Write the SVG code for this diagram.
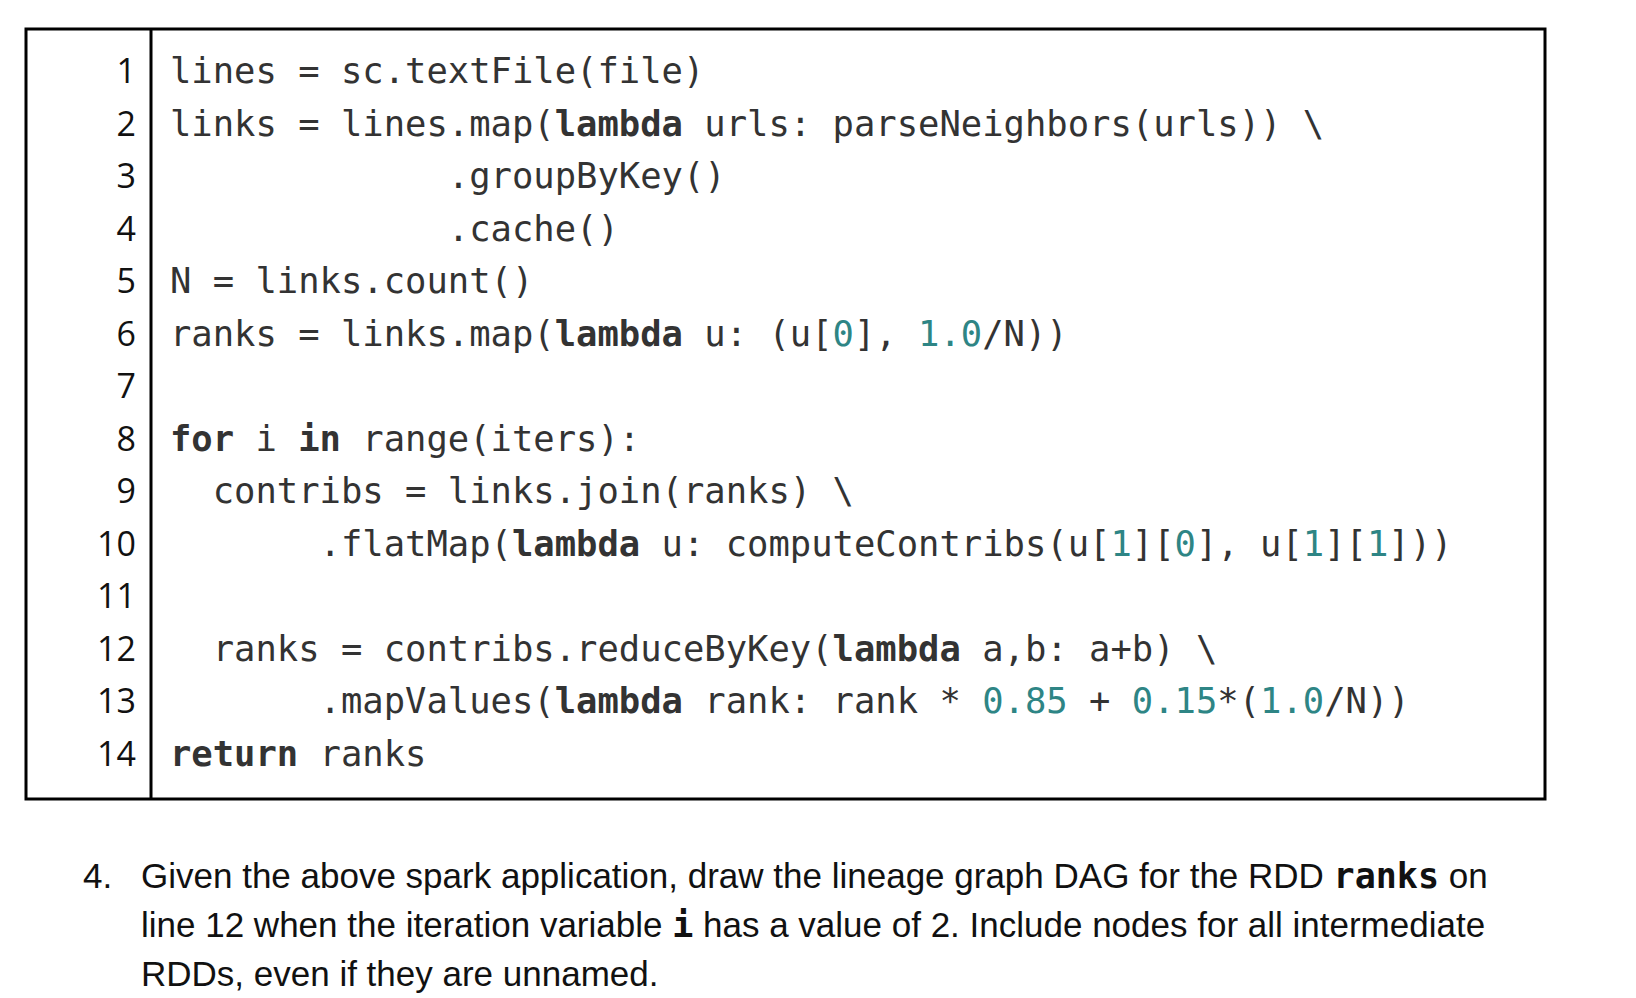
<svg xmlns="http://www.w3.org/2000/svg" width="1636" height="998" viewBox="0 0 1636 998">
<style>
.c{font-family:"DejaVu Sans Mono","Liberation Mono",monospace;font-size:35.5px;fill:#333;white-space:pre}
.n{font-family:"Open Sans","Liberation Sans",sans-serif;font-size:34px;fill:#111;text-anchor:end}
.b{font-weight:bold}
.t{fill:#2e8585}
.q{font-family:"Liberation Sans",Arial,sans-serif;font-size:35px;fill:#111}
.qm{font-family:"DejaVu Sans Mono","Liberation Mono",monospace;font-weight:bold}
</style>
<rect width="1636" height="998" fill="#fff"/>
<g id="codebox">
<rect x="26" y="29" width="1519" height="770" fill="none" stroke="#000" stroke-width="3"/>
<line x1="151" y1="29" x2="151" y2="799" stroke="#000" stroke-width="3"/>
</g>
<g id="linenumbers">
<text class="n" x="136" y="83">1</text>
<text class="n" x="136" y="136">2</text>
<text class="n" x="136" y="188">3</text>
<text class="n" x="136" y="241">4</text>
<text class="n" x="136" y="293">5</text>
<text class="n" x="136" y="346">6</text>
<text class="n" x="136" y="398">7</text>
<text class="n" x="136" y="451">8</text>
<text class="n" x="136" y="503">9</text>
<text class="n" x="136" y="556">10</text>
<text class="n" x="136" y="608">11</text>
<text class="n" x="136" y="661">12</text>
<text class="n" x="136" y="713">13</text>
<text class="n" x="136" y="766">14</text>
</g>
<g id="code" xml:space="preserve">
<text class="c" x="170" y="83">lines = sc.textFile(file)</text>
<text class="c" x="170" y="136">links = lines.map(<tspan class="b">lambda</tspan> urls: parseNeighbors(urls)) \</text>
<text class="c" x="170" y="188">             .groupByKey()</text>
<text class="c" x="170" y="241">             .cache()</text>
<text class="c" x="170" y="293">N = links.count()</text>
<text class="c" x="170" y="346">ranks = links.map(<tspan class="b">lambda</tspan> u: (u[<tspan class="t">0</tspan>], <tspan class="t">1.0</tspan>/N))</text>
<text class="c" x="170" y="451"><tspan class="b">for</tspan> i <tspan class="b">in</tspan> range(iters):</text>
<text class="c" x="170" y="503">  contribs = links.join(ranks) \</text>
<text class="c" x="170" y="556">       .flatMap(<tspan class="b">lambda</tspan> u: computeContribs(u[<tspan class="t">1</tspan>][<tspan class="t">0</tspan>], u[<tspan class="t">1</tspan>][<tspan class="t">1</tspan>]))</text>
<text class="c" x="170" y="661">  ranks = contribs.reduceByKey(<tspan class="b">lambda</tspan> a,b: a+b) \</text>
<text class="c" x="170" y="713">       .mapValues(<tspan class="b">lambda</tspan> rank: rank * <tspan class="t">0.85</tspan> + <tspan class="t">0.15</tspan>*(<tspan class="t">1.0</tspan>/N))</text>
<text class="c" x="170" y="766"><tspan class="b">return</tspan> ranks</text>
</g>
<g id="question">
<text class="q" x="83" y="888">4.</text>
<text class="q" x="141" y="888">Given the above spark application, draw the lineage graph DAG for the RDD <tspan class="qm">ranks</tspan> on</text>
<text class="q" x="141" y="937">line 12 when the iteration variable <tspan class="qm">i</tspan> has a value of 2. Include nodes for all intermediate</text>
<text class="q" x="141" y="986">RDDs, even if they are unnamed.</text>
</g>
</svg>
